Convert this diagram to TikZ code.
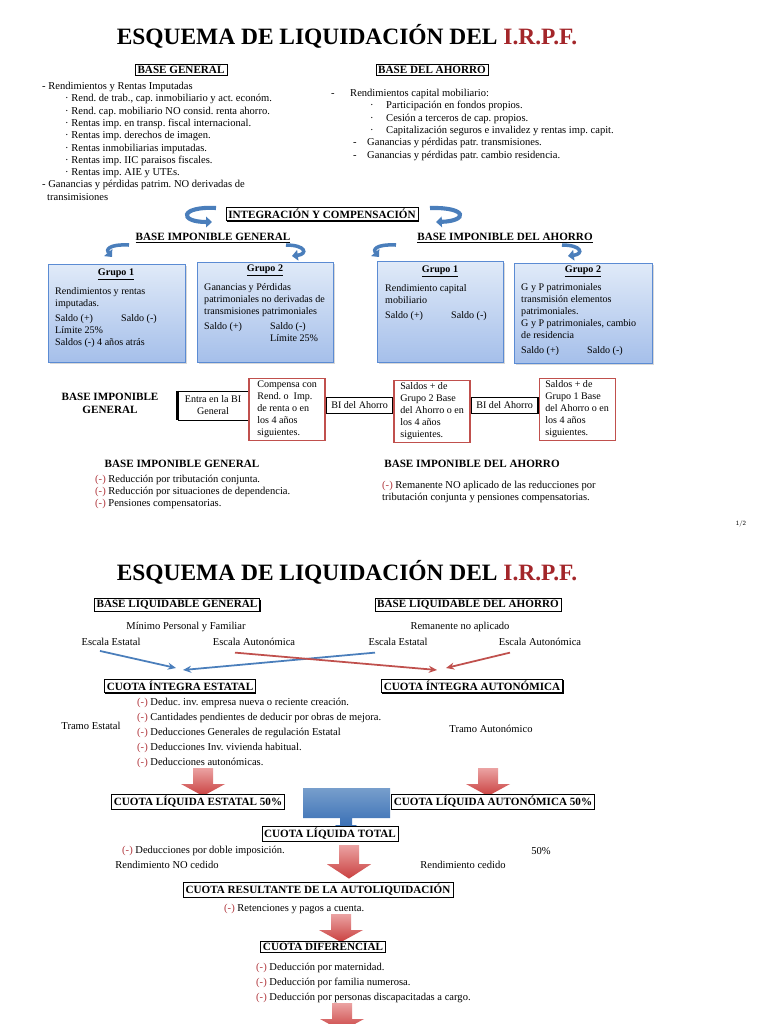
\documentclass[tikz,border=0pt]{standalone}
\usepackage{fontspec}
\setmainfont{Liberation Serif}
\usetikzlibrary{arrows.meta,positioning,shadows}
\frenchspacing

\definecolor{rojotit}{HTML}{A3262A}
\definecolor{menos}{HTML}{B23A40}
\definecolor{azul}{HTML}{4A7EBB}
\definecolor{azulosc}{HTML}{2E67B1}
\definecolor{azulclaro}{HTML}{E0EAF8}
\definecolor{azulmedio}{HTML}{A5BFEA}
\definecolor{bordeazul}{HTML}{5B8BD3}
\definecolor{bordero}{HTML}{C0504D}
\definecolor{rojoclaro}{HTML}{EBA3A3}
\definecolor{rojoflecha}{HTML}{C9403F}

\newlength{\pxu}\setlength{\pxu}{0.03cm}
\newcommand{\mn}{\textcolor{menos}{(-)}}

\begin{document}
\begin{tikzpicture}[x=0.03cm,y=-0.03cm,>=Latex]
  \tikzstyle{txt}=[inner sep=0pt,align=left,font=\fontsize{9}{10.5}\selectfont]
  \tikzstyle{titulo}=[inner sep=0pt,font=\fontsize{20}{24}\selectfont\bfseries]
  \tikzstyle{cab}=[draw,fill=white,line width=0.5pt,inner xsep=2pt,inner ysep=1.5pt,font=\fontsize{9.5}{11}\selectfont\bfseries,drop shadow={shadow xshift=0.8pt,shadow yshift=-0.8pt,opacity=1,fill=black}]
  \tikzstyle{sub}=[inner sep=0pt,align=center,font=\fontsize{9.5}{11}\selectfont\bfseries]
  \tikzstyle{grupo}=[draw=bordeazul,line width=0.6pt,top color=azulclaro,bottom color=azulmedio,anchor=north west,drop shadow={shadow xshift=1.5pt,shadow yshift=-1.5pt,opacity=0.3}]
  \tikzstyle{gtit}=[inner sep=0pt,font=\fontsize{8.6}{10}\selectfont\bfseries]
  \tikzstyle{gtxt}=[inner sep=0pt,anchor=north west,align=left,font=\fontsize{8.6}{10.2}\selectfont]
  \tikzstyle{entra}=[draw,line width=0.8pt,fill=white,align=center,minimum width=2.1cm,minimum height=0.87cm,inner sep=1pt,font=\fontsize{8.6}{10.2}\selectfont]
  \tikzstyle{rojo}=[draw=bordero,line width=1.1pt,fill=white,align=left,inner xsep=2pt,inner ysep=1pt,minimum width=2.28cm,minimum height=1.86cm,font=\fontsize{8.6}{10.2}\selectfont,drop shadow={shadow xshift=1pt,shadow yshift=-1pt,opacity=0.3}]
  \tikzstyle{enlace}=[draw,line width=0.9pt,fill=white,inner sep=1pt,minimum width=2cm,minimum height=0.48cm,font=\fontsize{8.6}{10}\selectfont]
  \tikzstyle{vuelta}=[draw=azul,line width=3.5pt,-{Triangle[width=9pt,length=5pt]}]
  \tikzstyle{escala}=[line width=1.5pt,-{Stealth[length=7pt,width=6pt]}]
  \tikzset{bajada/.pic={\shade[top color=rojoclaro,bottom color=rojoflecha]
      (-10,0) -- (10,0) -- (10,16) -- (22,16) -- (0,28) -- (-22,16) -- (-10,16) -- cycle;}}

  \useasboundingbox (0,0) rectangle (768,1024);
  \clip (0,0) rectangle (768,1024);
  \fill[white] (0,0) rectangle (768,1024);

  % hoja 1
  \node[titulo] (tit1) at (347,36) {ESQUEMA DE LIQUIDACIÓN DEL \textcolor{rojotit}{I.R.P.F.}};

  \node[cab] (bgen) at (181,70) {BASE GENERAL};
  \node[cab] (bahorro) at (432,70) {BASE DEL AHORRO};

  \node[txt,anchor=north west] (listag) at (42,82) {%
    - Rendimientos y Rentas Imputadas\\
    \hspace*{23\pxu}· Rend. de trab., cap. inmobiliario y act. económ.\\
    \hspace*{23\pxu}· Rend. cap. mobiliario NO consid. renta ahorro.\\
    \hspace*{23\pxu}· Rentas imp. en transp. fiscal internacional.\\
    \hspace*{23\pxu}· Rentas imp. derechos de imagen.\\
    \hspace*{23\pxu}· Rentas inmobiliarias imputadas.\\
    \hspace*{23\pxu}· Rentas imp. IIC paraisos fiscales.\\
    \hspace*{23\pxu}· Rentas imp. AIE y UTEs.\\
    - Ganancias y pérdidas patrim. NO derivadas de\\
    \hspace*{5\pxu}transimisiones};

  \node[txt,anchor=north west] (listaa) at (331,89) {%
    \makebox[19\pxu][l]{-}Rendimientos capital mobiliario:\\
    \hspace*{39\pxu}\makebox[16\pxu][l]{·}Participación en fondos propios.\\
    \hspace*{39\pxu}\makebox[16\pxu][l]{·}Cesión a terceros de cap. propios.\\
    \hspace*{39\pxu}\makebox[16\pxu][l]{·}Capitalización seguros e invalidez y rentas imp. capit.\\
    \hspace*{22\pxu}\makebox[14\pxu][l]{-}Ganancias y pérdidas patr. transmisiones.\\
    \hspace*{22\pxu}\makebox[14\pxu][l]{-}Ganancias y pérdidas patr. cambio residencia.};

  \node[cab] (integ) at (322,214) {INTEGRACIÓN Y COMPENSACIÓN};
  \draw[vuelta] (216,208) .. controls (180,206) and (178,222) .. (212,222);
  \draw[vuelta] (430,208) .. controls (468,207) and (468,221) .. (436,222);

  \node[sub] (bigen) at (213,238) {\underline{BASE IMPONIBLE GENERAL}};
  \node[sub] (biaho) at (505,238) {\underline{BASE IMPONIBLE DEL AHORRO}};
  \draw[vuelta,line width=3pt] (129,245) .. controls (108,244) and (106,250) .. (112,257);
  \draw[vuelta,line width=3pt] (286,245) .. controls (306,245) and (308,254) .. (292,256);
  \draw[vuelta,line width=3pt] (396,245) .. controls (375,244) and (373,250) .. (379,257);
  \draw[vuelta,line width=3pt] (562,245) .. controls (582,245) and (584,254) .. (568,256);

  \node[grupo,minimum width=4.11cm,minimum height=2.94cm] (g1g) at (48,264) {};
  \node[gtit] (t1g) at (116,274) {\underline{Grupo 1}};
  \node[gtxt] (c1g) at (55,287) {Rendimientos y rentas\\imputadas.\\[3pt]
    \makebox[66\pxu][l]{Saldo (+)}Saldo (-)\\Límite 25\%\\Saldos (-) 4 años atrás};

  \node[grupo,minimum width=4.08cm,minimum height=3cm] (g2g) at (197,262) {};
  \node[gtit] (t2g) at (265,270) {\underline{Grupo 2}};
  \node[gtxt] (c2g) at (204,283) {Ganancias y Pérdidas\\patrimoniales no derivadas de\\transmisiones patrimoniales\\[3pt]
    \makebox[66\pxu][l]{Saldo (+)}Saldo (-)\\\hspace*{66\pxu}Límite 25\%};

  \node[grupo,minimum width=3.78cm,minimum height=3.03cm] (g1a) at (377,261) {};
  \node[gtit] (t1a) at (440,271) {\underline{Grupo 1}};
  \node[gtxt] (c1a) at (385,284) {Rendimiento capital\\mobiliario\\[3pt]
    \makebox[66\pxu][l]{Saldo (+)}Saldo (-)};

  \node[grupo,minimum width=4.14cm,minimum height=3cm] (g2a) at (514,263) {};
  \node[gtit] (t2a) at (583,271) {\underline{Grupo 2}};
  \node[gtxt] (c2a) at (521,283) {G y P patrimoniales\\transmisión elementos\\patrimoniales.\\G y P patrimoniales, cambio\\de residencia\\[3pt]
    \makebox[66\pxu][l]{Saldo (+)}Saldo (-)};

  \node[sub] (bigen2) at (110,403) {BASE IMPONIBLE\\GENERAL};
  \node[entra] (entra) at (213,405.5) {Entra en la BI\\General};
  \draw[line width=2pt] (entra.north west) -- (entra.south west);
  \node[rojo,right=0pt of entra,yshift=-0.11cm] (compensa) {Compensa con\\Rend. o~ Imp.\\de renta o en\\los 4 años\\siguientes.};
  \node[enlace,right=0pt of compensa,yshift=0.11cm] (enl1) {BI del Ahorro};
  \node[rojo,right=0pt of enl1,yshift=-0.17cm] (saldos2) {Saldos + de\\Grupo 2 Base\\del Ahorro o en\\los 4 años\\siguientes.};
  \node[enlace,right=0pt of saldos2,yshift=0.17cm] (enl2) {BI del Ahorro};
  \node[rojo,right=0pt of enl2,yshift=-0.11cm] (saldos1) {Saldos + de\\Grupo 1 Base\\del Ahorro o en\\los 4 años\\siguientes.};

  \node[sub] (bigen3) at (182,464) {BASE IMPONIBLE GENERAL};
  \node[sub] (biaho3) at (472,464) {BASE IMPONIBLE DEL AHORRO};
  \node[txt,anchor=north west,font=\fontsize{9}{10.3}\selectfont] (redg) at (95,475) {\mn{} Reducción por tributación conjunta.\\
    \mn{} Reducción por situaciones de dependencia.\\
    \mn{} Pensiones compensatorias.};
  \node[txt,anchor=north west,font=\fontsize{9}{10.3}\selectfont] (reda) at (382,481) {\mn{} Remanente NO aplicado de las reducciones por\\
    tributación conjunta y pensiones compensatorias.};
  \node[inner sep=0pt,font=\sffamily\fontsize{5.5}{6}\selectfont] (pag) at (741,524) {1/2};

  % hoja 2
  \node[titulo] (tit2) at (347,572) {ESQUEMA DE LIQUIDACIÓN DEL \textcolor{rojotit}{I.R.P.F.}};
  \node[cab] (blg) at (177,605) {BASE LIQUIDABLE GENERAL};
  \node[cab] (bla) at (468,605) {BASE LIQUIDABLE DEL AHORRO};
  \node[txt] (minimo) at (186,627) {Mínimo Personal y Familiar};
  \node[txt] (remanente) at (460,627) {Remanente no aplicado};
  \node[txt] (ee1) at (111,642) {Escala Estatal};
  \node[txt] (ea1) at (254,642) {Escala Autonómica};
  \node[txt] (ee2) at (398,642) {Escala Estatal};
  \node[txt] (ea2) at (540,642) {Escala Autonómica};

  \coordinate (pe1) at (176,668);
  \coordinate (pe2) at (183,670);
  \coordinate (pa1) at (437,670);
  \coordinate (pa2) at (446,668);
  \draw[escala,azul] ([xshift=-0.33cm,yshift=-0.15cm]ee1.south) -- (pe1);
  \draw[escala,azul] ([xshift=-0.69cm,yshift=-0.2cm]ee2.south) -- (pe2);
  \draw[escala,bordero] ([xshift=-0.57cm,yshift=-0.2cm]ea1.south) -- (pa1);
  \draw[escala,bordero] ([xshift=-0.9cm,yshift=-0.2cm]ea2.south) -- (pa2);

  \node[cab] (cie) at (180,686) {CUOTA ÍNTEGRA ESTATAL};
  \node[cab] (cia) at (472,686) {CUOTA ÍNTEGRA AUTONÓMICA};
  \node[txt] (tre) at (91,726) {Tramo Estatal};
  \node[txt] (tra) at (491,729) {Tramo Autonómico};
  \node[txt,anchor=west,font=\fontsize{9}{12.8}\selectfont] (deduc) at (137,733) {\mn{} Deduc. inv. empresa nueva o reciente creación.\\
    \mn{} Cantidades pendientes de deducir por obras de mejora.\\
    \mn{} Deducciones Generales de regulación Estatal\\
    \mn{} Deducciones Inv. vivienda habitual.\\
    \mn{} Deducciones autonómicas.};

  \pic (f1) at (203,768) {bajada};
  \pic (f2) at (488,768) {bajada};
  \node[cab] (cle) at (198,802) {CUOTA LÍQUIDA ESTATAL 50\%};
  \node[cab] (cla) at (493,802) {CUOTA LÍQUIDA AUTONÓMICA 50\%};
  \shade[top color=azul!75!white,bottom color=azulosc] (303,788) -- (390,788) -- (390,818) -- (352,818)
    -- (352,825) -- (357,825) -- (346,834) -- (335,825) -- (340,825) -- (340,818) -- (303,818) -- cycle;
  \node[cab] (clt) at (330,834) {CUOTA LÍQUIDA TOTAL};

  \node[txt,anchor=west] (doble) at (122,851) {\mn{} Deducciones por doble imposición.};
  \node[txt] (p50) at (541,851) {50\%};
  \node[txt] (rnc) at (167,865) {Rendimiento NO cedido};
  \node[txt] (rc) at (463,865) {Rendimiento cedido};
  \pic[yscale=1.2] (f3) at (349,845) {bajada};
  \node[cab] (cra) at (318,890) {CUOTA RESULTANTE DE LA AUTOLIQUIDACIÓN};
  \node[txt,anchor=west] (reten) at (224,909) {\mn{} Retenciones y pagos a cuenta.};
  \pic (f4) at (341,914) {bajada};
  \node[cab] (cdif) at (323,947) {CUOTA DIFERENCIAL};
  \node[txt,anchor=west,font=\fontsize{9}{12.8}\selectfont] (dfam) at (256,983) {\mn{} Deducción por maternidad.\\
    \mn{} Deducción por familia numerosa.\\
    \mn{} Deducción por personas discapacitadas a cargo.};
  \pic (f5) at (342,1003) {bajada};
\end{tikzpicture}
\end{document}
